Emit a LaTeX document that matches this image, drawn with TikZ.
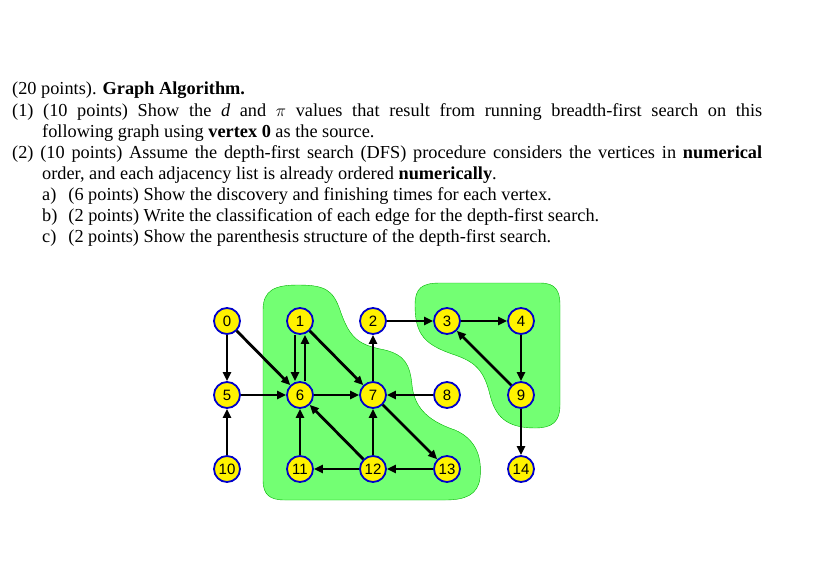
\documentclass[tikz,border=0pt]{standalone}
\usepackage{fontspec}
\setmainfont{Liberation Serif}
\setsansfont{Liberation Sans}
\usetikzlibrary{arrows.meta}
\tikzset{
  vtx/.style={circle,draw=blue!80!black,fill=yellow,line width=1.8pt,minimum size=26pt,inner sep=0pt,font=\sffamily\fontsize{15}{15}\selectfont},
  edg/.style={-{Triangle[length=9pt,width=8pt]},line width=2.8pt},
  txt/.style={anchor=base west,inner sep=0pt,font=\fontsize{18.3}{22}\selectfont},
  blob/.style={fill=green!55!white,draw=green!70!black,line width=0.4pt}
}
\begin{document}
\begin{tikzpicture}[x=1pt,y=-1pt]
  \useasboundingbox (0,0) rectangle (822,566);

  % question text
  \node[txt] (t0) at (12,94) {(20 points). \textbf{Graph Algorithm.}};
  \node[txt] (t1) at (12,116) {\makebox[750pt][s]{(1) (10 points) Show the \textit{d} and $\pi$ values that result from running breadth-first search on this}};
  \node[txt] (t2) at (42,137) {following graph using \textbf{vertex 0} as the source.};
  \node[txt] (t3) at (12,158) {\makebox[750pt][s]{(2) (10 points) Assume the depth-first search (DFS) procedure considers the vertices in \textbf{numerical}}};
  \node[txt] (t4) at (42,179) {order, and each adjacency list is already ordered \textbf{numerically}.};
  \node[txt] (t5) at (42,200) {a)\hspace{12pt}(6 points) Show the discovery and finishing times for each vertex.};
  \node[txt] (t6) at (42,221) {b)\hspace{11pt}(2 points) Write the classification of each edge for the depth-first search.};
  \node[txt] (t7) at (42,242) {c)\hspace{12pt}(2 points) Show the parenthesis structure of the depth-first search.};

  % green regions
  \draw[blob] (263,310) .. controls (263,290) and (275,285) .. (298,285)
    .. controls (325,285) and (333,290) .. (340,310)
    .. controls (350,340) and (360,345) .. (385,350)
    .. controls (405,355) and (410,365) .. (412,385)
    .. controls (414,405) and (425,420) .. (455,430)
    .. controls (478,440) and (482,460) .. (480,478)
    .. controls (478,495) and (465,500) .. (445,500)
    -- (285,500) .. controls (270,500) and (263,495) .. (263,480) -- cycle;
  \draw[blob] (415,305) .. controls (415,288) and (422,283) .. (440,283)
    -- (540,283) .. controls (555,283) and (560,290) .. (560,305)
    -- (560,405) .. controls (560,422) and (552,428) .. (535,428)
    .. controls (505,428) and (495,415) .. (490,395)
    .. controls (484,370) and (475,362) .. (455,355)
    .. controls (425,345) and (415,335) .. (415,305);

  % vertices
  \foreach \n/\x/\y in {0/227/321,1/300/321,2/373/321,3/447/321,4/521/321,
    5/227/395,6/300/395,7/373/395,8/447/395,9/521/395,
    10/227/469,11/300/469,12/373/469,13/447/469,14/521/469}
    \node[vtx] (v\n) at (\x,\y) {\n};

  % edges
  \draw[edg] (v0) -- (v5);
  \draw[edg] (v0) -- (v6);
  \draw[edg] ([xshift=-5pt]v1.south) -- ([xshift=-5pt]v6.north);
  \draw[edg] ([xshift=5pt]v6.north) -- ([xshift=5pt]v1.south);
  \draw[edg] (v1) -- (v7);
  \draw[edg] (v2) -- (v3);
  \draw[edg] (v3) -- (v4);
  \draw[edg] (v4) -- (v9);
  \draw[edg] (v9) -- (v3);
  \draw[edg] (v5) -- (v6);
  \draw[edg] (v6) -- (v7);
  \draw[edg] (v8) -- (v7);
  \draw[edg] (v7) -- (v2);
  \draw[edg] (v10) -- (v5);
  \draw[edg] (v11) -- (v6);
  \draw[edg] (v12) -- (v6);
  \draw[edg] (v12) -- (v7);
  \draw[edg] (v12) -- (v11);
  \draw[edg] (v13) -- (v12);
  \draw[edg] (v7) -- (v13);
  \draw[edg] (v9) -- (v14);
\end{tikzpicture}
\end{document}
